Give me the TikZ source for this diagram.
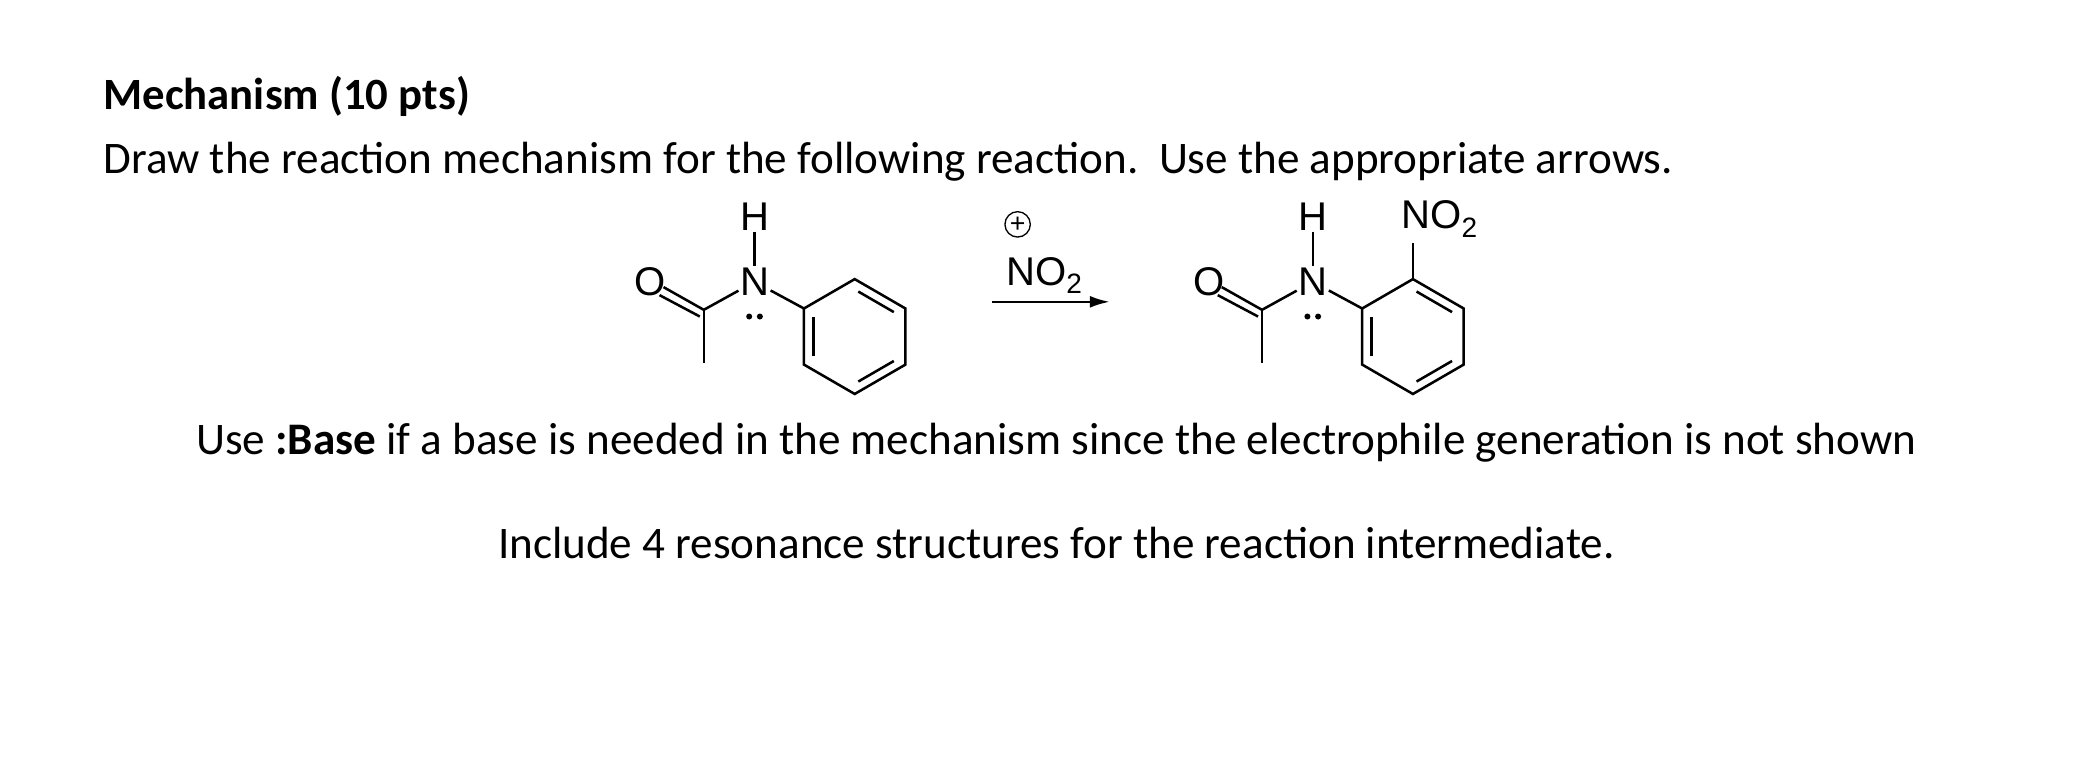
\documentclass[tikz,border=0pt]{standalone}
\usepackage{fontspec}
\setmainfont{Carlito}
\newfontfamily\chemfont{Liberation Sans}
\usetikzlibrary{arrows.meta,calc}
\begin{document}
\begin{tikzpicture}[x=1pt,y=-1pt,
  bond/.style={line width=1.9pt},
  txt/.style={font=\fontsize{33.8}{38}\selectfont,anchor=base},
  atom/.style={font=\chemfont\fontsize{30}{32}\selectfont,inner sep=1pt},
  lp/.style={circle,fill=black,inner sep=0pt,minimum size=4.5pt}]
\useasboundingbox (0,0) rectangle (1568,574);
\node[txt,anchor=base west,font=\bfseries\fontsize{33.5}{38}\selectfont] (title) at (74,82) {Mechanism (10 pts)};
\node[txt,anchor=base west] (instr) at (74,130) {Draw the reaction mechanism for the following reaction.\ \ Use the appropriate arrows.};
\node[txt] (base) at (791,340) {Use \textbf{:Base} if a base is needed in the mechanism since the electrophile generation is not shown};
\node[txt] (incl) at (791,418) {Include 4 resonance structures for the reaction intermediate.};
% molecules
\foreach \dx/\nm in {0/a,418/b}{
\begin{scope}[xshift=\dx pt]
\node[atom] (O\nm) at (487,211) {O};
\node[atom] (N\nm) at (565,211) {N};
\node[atom] (H\nm) at (565,162) {H};
\coordinate (C\nm) at (527,232);
\coordinate (M\nm) at (527,272);
\node[lp] at (561,237) {};\node[lp] at (569,237) {};
\coordinate (r1\nm) at (602,231);
\coordinate (r2\nm) at (640,209);
\coordinate (r3\nm) at (678,231);
\coordinate (r4\nm) at (678,273);
\coordinate (r5\nm) at (640,295);
\coordinate (r6\nm) at (602,273);
\draw[bond] (H\nm) -- (N\nm);
\draw[bond] ($(O\nm.east)+(-3,4)$) -- (C\nm);
\draw[bond] ($(O\nm.east)+(-6,10)$) -- ($(C\nm)+(-3,5)$);
\draw[bond] (C\nm) -- (M\nm);
\draw[bond] (C\nm) -- (N\nm);
\draw[bond] (N\nm) -- (r1\nm);
\draw[bond] (r1\nm)--(r2\nm)--(r3\nm)--(r4\nm)--(r5\nm)--(r6\nm)--cycle;
\draw[bond] ($(r2\nm)!0.15!(r3\nm)+(-3,6)$) -- ($(r2\nm)!0.85!(r3\nm)+(-3,6)$);
\draw[bond] ($(r4\nm)!0.15!(r5\nm)+(-3,-6)$) -- ($(r4\nm)!0.85!(r5\nm)+(-3,-6)$);
\draw[bond] ($(r6\nm)!0.15!(r1\nm)+(7,0)$) -- ($(r6\nm)!0.85!(r1\nm)+(7,0)$);
\end{scope}}
\node[atom] (no2b) at (1078,164) {NO\textsubscript{2}};
\draw[bond] (r2b) -- (1058,182);
% reagent
\node[draw,circle,inner sep=0pt,minimum size=19pt,line width=1pt,font=\chemfont\fontsize{20}{20}\selectfont] (plus) at (762,168) {+};
\node[atom] (no2r) at (782,206) {NO\textsubscript{2}};
\coordinate (as) at (743,226);\coordinate (ae) at (831,226);
\draw[line width=1.9pt,-{Latex[length=15pt,width=9pt]}] (as) -- (ae);
\end{tikzpicture}
\end{document}
